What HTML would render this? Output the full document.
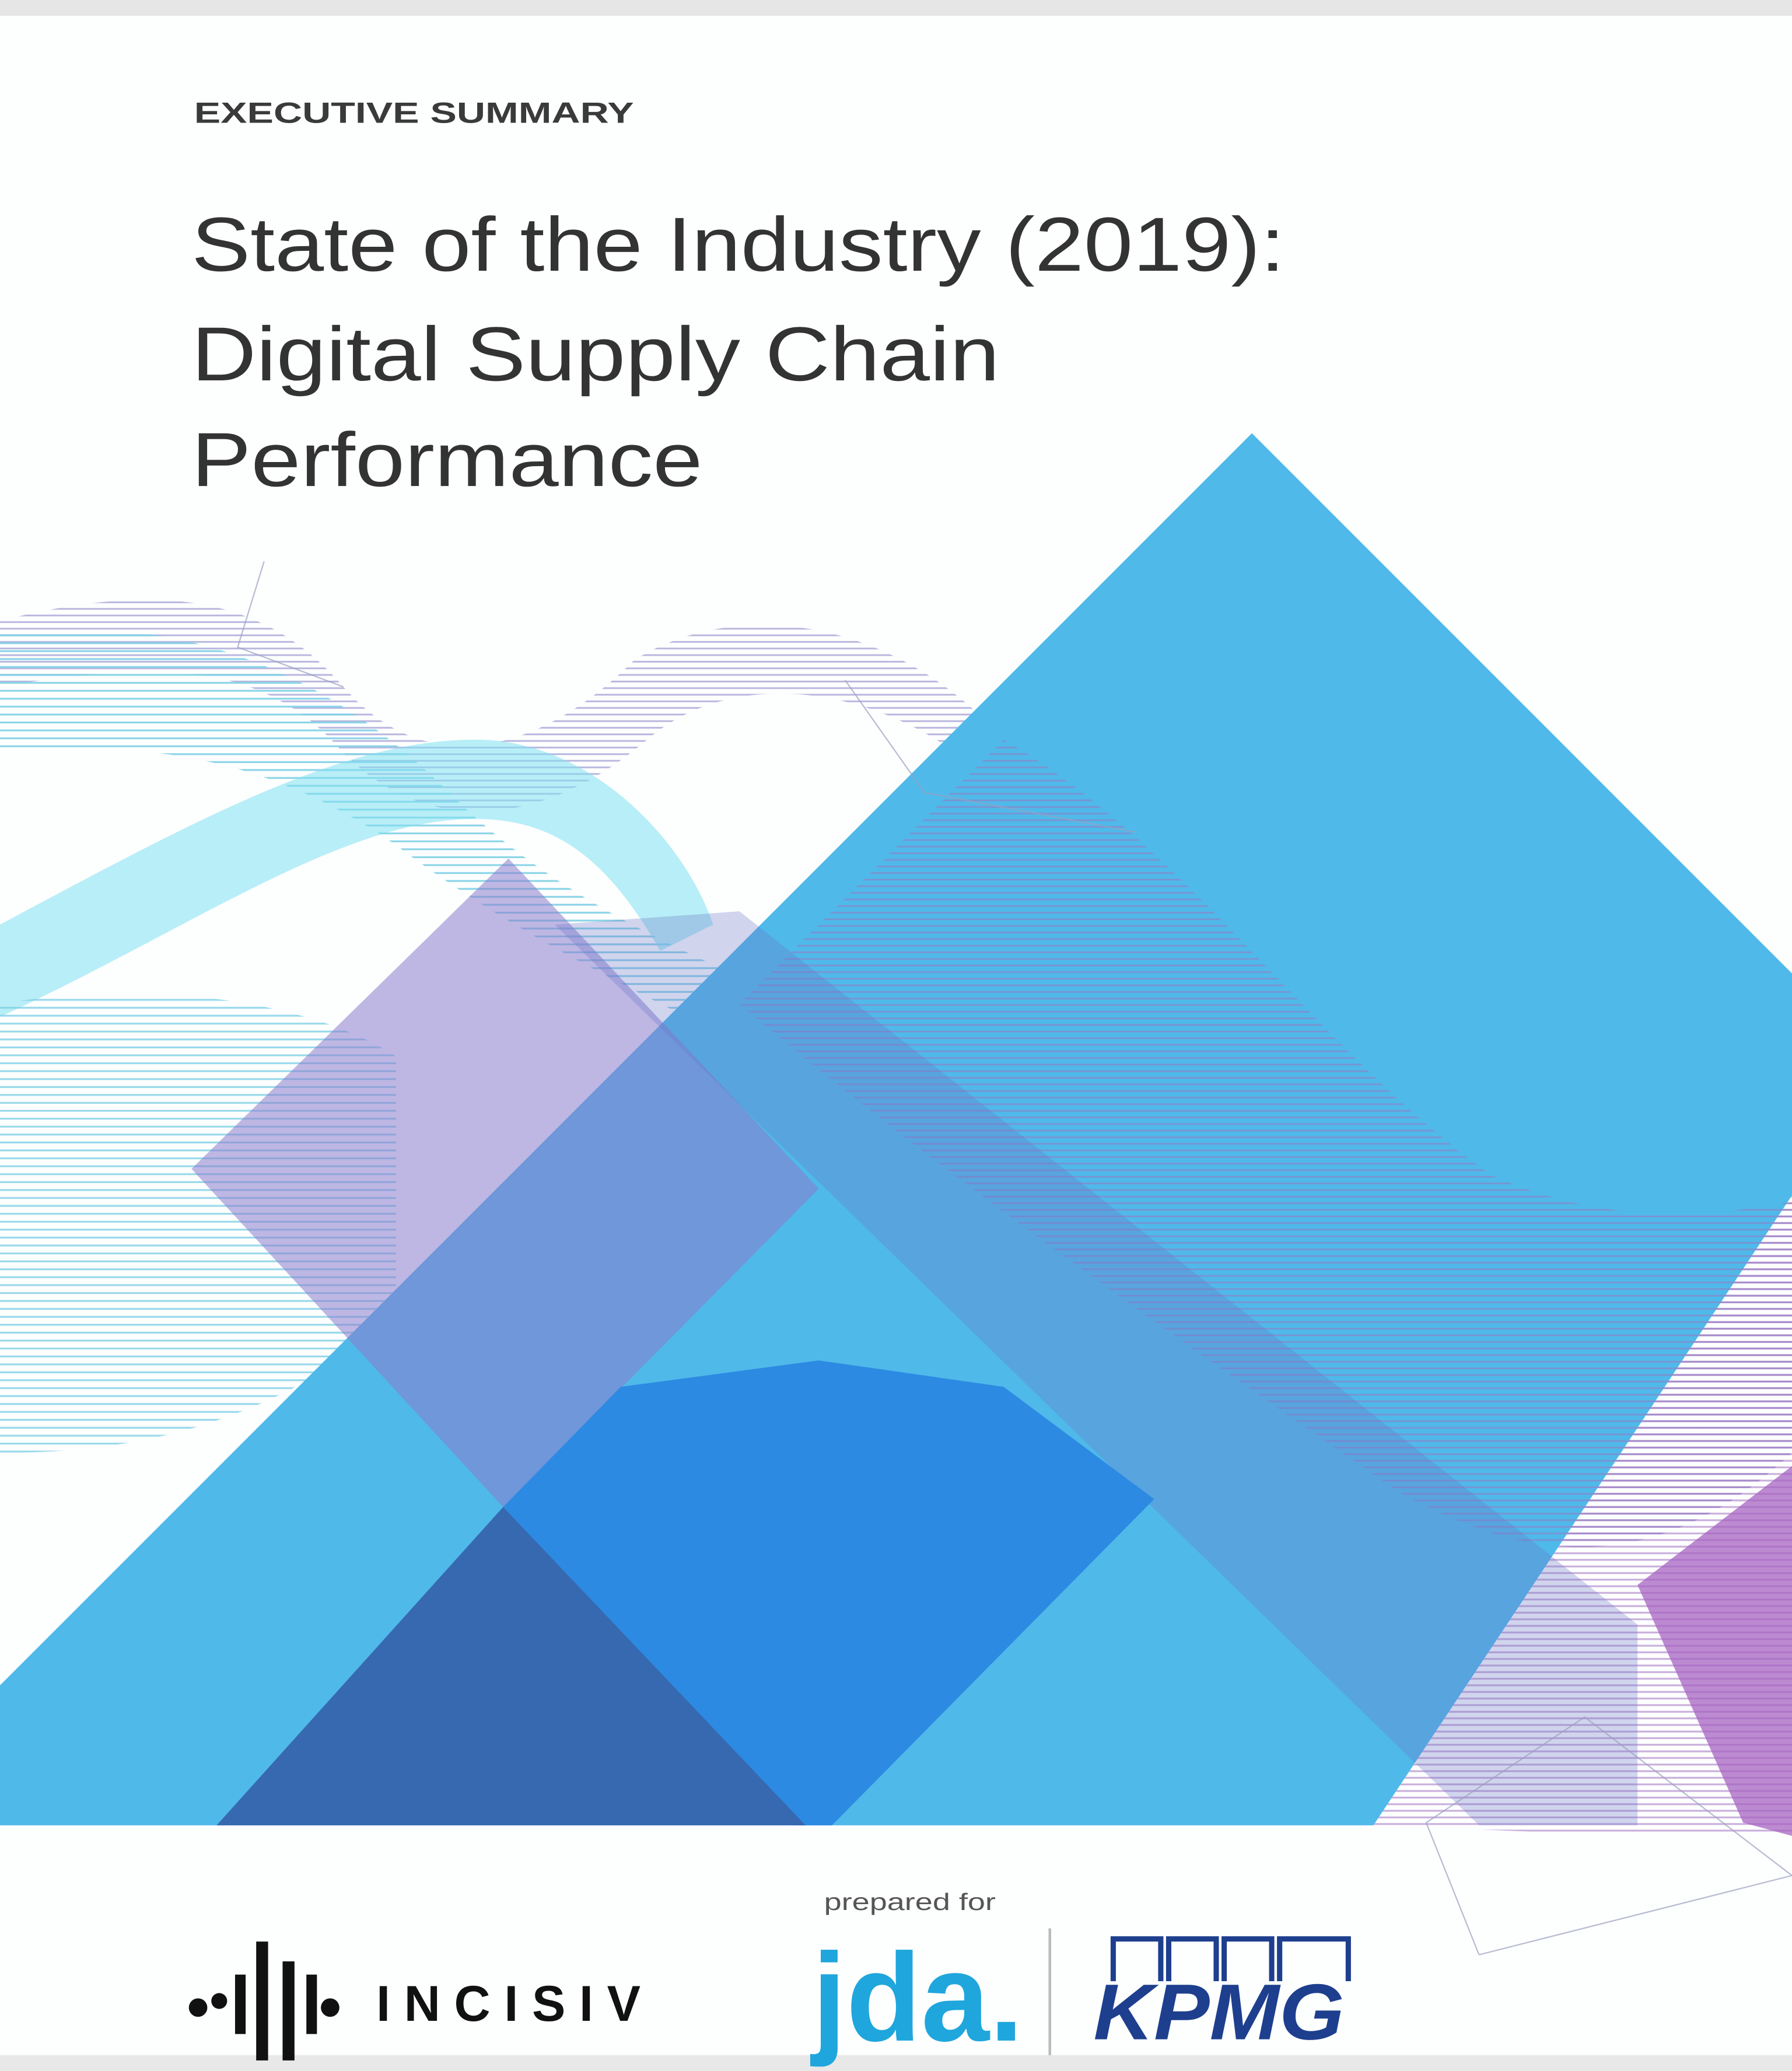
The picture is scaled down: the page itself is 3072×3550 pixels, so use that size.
<!DOCTYPE html>
<html><head><meta charset="utf-8"><style>
html,body{margin:0;padding:0;background:#fff;}
svg{display:block;}
</style></head><body>
<svg width="3072" height="3550" viewBox="0 0 1357 1568" preserveAspectRatio="none" xmlns="http://www.w3.org/2000/svg">
<defs>
<pattern id="hl" width="6" height="6" patternUnits="userSpaceOnUse"><rect width="6" height="6" fill="none"/><line x1="0" y1="1" x2="6" y2="1" stroke="#7fd0e6" stroke-width="1.4"/></pattern>
<pattern id="pl" width="5" height="5" patternUnits="userSpaceOnUse"><line x1="0" y1="1" x2="5" y2="1" stroke="#8a86c8" stroke-width="1.3"/></pattern>
<pattern id="vl" width="5" height="5" patternUnits="userSpaceOnUse"><line x1="0" y1="1" x2="5" y2="1" stroke="#a070c0" stroke-width="1.4"/></pattern>
</defs>
<rect width="1357" height="1568" fill="#fdfefe"/>
<rect width="1357" height="12" fill="#e6e6e6"/>
<rect y="1556" width="1357" height="12" fill="#e8e8e8"/>

<!-- waves left -->
<path d="M0 470 C120 440 200 450 260 520 C330 600 420 560 480 500 C560 450 680 470 760 560 L760 600 C680 520 560 500 490 560 C420 620 330 640 260 570 C200 500 120 500 0 520Z" fill="url(#pl)" opacity="0.6"/>
<path d="M0 480 C150 460 260 520 340 600 C420 680 520 720 560 740 L540 780 C460 740 380 700 300 640 C200 570 100 560 0 570Z" fill="url(#hl)" opacity="0.9"/>
<path d="M0 700 C150 620 260 560 360 560 C450 560 520 640 540 700 L500 720 C460 650 420 620 360 620 C260 620 150 700 0 770Z" fill="#7fe0f0" opacity="0.55"/>
<path d="M0 760 C120 740 240 760 300 800 L300 1000 C200 1080 100 1100 0 1100Z" fill="url(#hl)" opacity="0.8"/>

<!-- big blue triangle -->
<polygon points="0,1276 948,328 1357,737 1357,905 1040,1382 0,1382" fill="#4fb9ea"/>
<!-- purple lines over right -->
<path d="M760 560 C900 640 1000 800 1130 890 C1220 930 1300 920 1357 910 L1357 1100 C1250 1200 1150 1180 1060 1130 C900 1020 700 880 560 760Z" fill="url(#pl)" opacity="0.7"/>
<polygon points="1040,1382 1357,905 1357,1390 1240,1390" fill="url(#vl)" opacity="0.55"/>
<polygon points="1240,1200 1357,1110 1357,1390 1320,1380" fill="#a563c2" opacity="0.75"/>
<!-- purple diamond -->
<polygon points="385,650 145,885 381,1141 620,900" fill="#8a7ccc" opacity="0.55"/>
<!-- diagonal band -->
<polygon points="420,700 560,690 1240,1230 1240,1382 1120,1382" fill="#6a74c8" opacity="0.3"/>
<!-- medium blue -->
<polygon points="381,1141 470,1050 620,1030 760,1050 874,1135 630,1382 600,1382" fill="#2d8ae2"/>
<!-- navy triangle -->
<polygon points="381,1141 164,1382 610,1382" fill="#3669b0"/>
<!-- network lines -->
<g stroke="#9aa0c0" stroke-width="1" fill="none" opacity="0.7">
<polyline points="1120,1480 1080,1380 1200,1300 1357,1420 1120,1480"/>
<polyline points="200,425 180,490 260,520"/>
<polyline points="640,515 700,600 860,630"/>
</g>

<!-- text -->
<text x="147" y="93" font-family="Liberation Sans, sans-serif" font-weight="bold" font-size="22" fill="#3a3a3a" textLength="333" lengthAdjust="spacingAndGlyphs">EXECUTIVE SUMMARY</text>
<g font-family="Liberation Sans, sans-serif" font-size="58" fill="#333">
<text x="145" y="205" textLength="828" lengthAdjust="spacingAndGlyphs">State of the Industry (2019):</text>
<text x="145" y="288" textLength="612" lengthAdjust="spacingAndGlyphs">Digital Supply Chain</text>
<text x="145" y="368" textLength="387" lengthAdjust="spacingAndGlyphs">Performance</text>
</g>

<!-- logos -->
<g fill="#111">
<rect x="194" y="1470" width="9" height="90"/>
<rect x="214" y="1485" width="9" height="75"/>
<rect x="178" y="1495" width="8" height="45"/>
<rect x="232" y="1495" width="8" height="45"/>
<circle cx="150" cy="1520" r="7"/><circle cx="166" cy="1515" r="6"/><circle cx="250" cy="1520" r="7"/>
</g>
<text x="285" y="1530" font-family="Liberation Sans, sans-serif" font-weight="bold" font-size="38" fill="#111" textLength="200" lengthAdjust="spacing">INCISIV</text>
<text x="624" y="1446" font-family="Liberation Sans, sans-serif" font-size="18" fill="#555" textLength="130" lengthAdjust="spacingAndGlyphs">prepared for</text>
<text x="615" y="1545" font-family="Liberation Sans, sans-serif" font-weight="bold" font-size="95" fill="#1fa6dc" textLength="160" lengthAdjust="spacingAndGlyphs">jda.</text>
<line x1="795" y1="1460" x2="795" y2="1556" stroke="#bbb" stroke-width="2"/>
<g fill="none" stroke="#1e3f8e" stroke-width="4">
<rect x="843" y="1468" width="36" height="60"/><rect x="885" y="1468" width="36" height="60"/><rect x="927" y="1468" width="36" height="60"/><rect x="969" y="1468" width="52" height="60"/>
</g>
<rect x="830" y="1500" width="200" height="50" fill="#fdfefe"/>
<text x="828" y="1544" font-family="Liberation Sans, sans-serif" font-weight="bold" font-style="italic" font-size="60" fill="#1e3f8e" textLength="190" lengthAdjust="spacingAndGlyphs">KPMG</text>
</svg>
</body></html>
